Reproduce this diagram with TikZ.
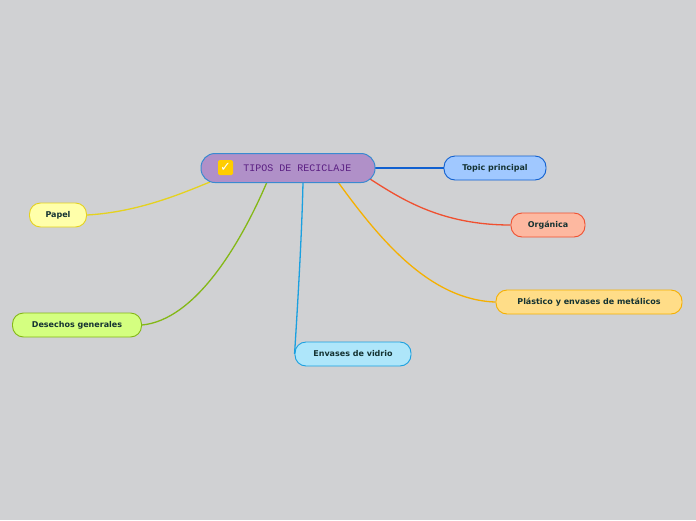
\documentclass[tikz,border=0pt]{standalone}
\usepackage{fontspec}
\setmainfont{DejaVu Sans}
\newfontfamily\monof{Liberation Mono}
\begin{document}
\begin{tikzpicture}[x=1pt,y=-1pt,
 topic/.style={draw,rounded corners=11pt,line width=0.9pt,minimum height=24pt,inner xsep=8pt,font=\bfseries\fontsize{8}{9}\selectfont,text={rgb,255:red,20;green,50;blue,50}},
 conn/.style={line width=1.3pt}]
\fill[fill={rgb,255:red,208;green,209;blue,211}] (0,0) rectangle (696,520);
\useasboundingbox (0,0) rectangle (696,520);
\definecolor{pc}{HTML}{E5D21E}\definecolor{dc}{HTML}{84B817}\definecolor{ec}{HTML}{1AA0E0}
\definecolor{plc}{HTML}{F5B000}\definecolor{oc}{HTML}{F05030}\definecolor{tc}{HTML}{1060D0}
\coordinate (c1) at (210,182);\coordinate (c2) at (267,182);\coordinate (c3) at (303,182);
\coordinate (c4) at (338,182);\coordinate (c5) at (370,179);\coordinate (c6) at (375,168);
\node[topic,fill={rgb,255:red,255;green,255;blue,170},draw=pc,minimum width=57pt] (papel) at (58,215) {Papel};
\node[topic,fill={rgb,255:red,212;green,255;blue,128},draw=dc,minimum width=129pt] (des) at (77,325) {Desechos generales};
\node[topic,fill={rgb,255:red,174;green,230;blue,250},draw=ec,minimum width=116pt] (env) at (353,354) {Envases de vidrio};
\node[topic,fill={rgb,255:red,255;green,221;blue,136},draw=plc,minimum width=186pt] (pla) at (589,302) {Plástico y envases de metálicos};
\node[topic,fill={rgb,255:red,253;green,184;blue,160},draw=oc,minimum width=74pt] (org) at (548,225) {Orgánica};
\node[topic,fill={rgb,255:red,160;green,200;blue,255},draw=tc,minimum width=102pt] (top) at (495,168) {Topic principal};
\draw[conn,pc] (papel.east) .. controls (140,212) and (185,192) .. (c1);
\draw[conn,dc] (des.east) .. controls (195,320) and (240,245) .. (c2);
\draw[conn,ec] (env.west) .. controls (298,300) and (302,230) .. (c3);
\draw[conn,plc] (pla.west) .. controls (430,300) and (380,240) .. (c4);
\draw[conn,oc] (org.west) .. controls (440,225) and (400,198) .. (c5);
\draw[conn,tc] (c6) -- (top.west);
\node[draw={rgb,255:red,58;green,138;blue,208},fill={rgb,255:red,176;green,144;blue,200},rounded corners=14pt,line width=1pt,minimum width=174pt,minimum height=29pt] (c) at (288,168) {};
\node[font=\monof\fontsize{10}{11}\selectfont,text={rgb,255:red,90;green,30;blue,130}] (ct) at (297.5,168) {TIPOS DE RECICLAJE};
\node[fill={rgb,255:red,255;green,205;blue,0},rounded corners=1.5pt,minimum size=15pt,inner sep=0pt,font=\fontsize{13}{13}\selectfont,text=white] (chk) at (225.5,167.5) {✓};
\end{tikzpicture}
\end{document}
